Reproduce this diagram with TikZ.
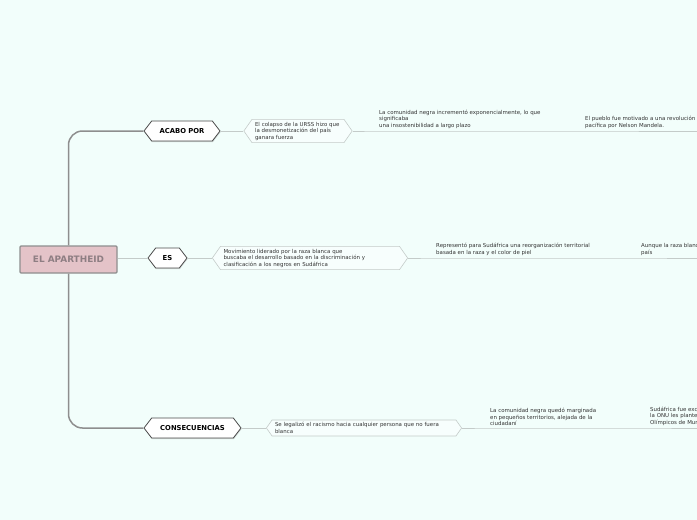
\documentclass[tikz,border=0pt]{standalone}
\usepackage{fontspec}
\setmainfont{DejaVu Sans}
\usetikzlibrary{shapes.symbols}
\usetikzlibrary{shadows}
\usetikzlibrary{calc}
\definecolor{bgcol}{HTML}{F2FEFB}
\definecolor{rootcol}{HTML}{E4C3C8}
\definecolor{roottxt}{HTML}{8E7E83}
\definecolor{trunkcol}{HTML}{8E8E8E}
\definecolor{linkcol}{HTML}{C4CBC9}
\definecolor{subcol}{HTML}{F7FEFD}
\newcommand{\tinyfont}{\fontsize{5.45}{6.5}\selectfont}

\begin{document}
\begin{tikzpicture}[x=1pt,y=-1pt]
\tikzstyle{rootstyle}=[draw=trunkcol, line width=1.2pt, fill=rootcol, rounded corners=1pt, minimum width=97pt, minimum height=27pt, text=roottxt, font=\fontsize{8.9}{10}\selectfont\bfseries]
\tikzstyle{mainstyle}=[signal, signal to=east and west, signal pointer angle=105, draw=black!70, line width=0.8pt, fill=white, minimum height=20pt, inner xsep=2pt, font=\fontsize{6.8}{8}\selectfont\bfseries, drop shadow={shadow xshift=0.5pt, shadow yshift=-1.2pt, opacity=0.3}]
\tikzstyle{substyle}=[signal, signal to=east and west, signal pointer angle=110, draw=linkcol, line width=0.6pt, fill=subcol, inner xsep=3pt, inner ysep=2.5pt, align=left, text=black!80, font=\tinyfont]
\tikzstyle{leafstyle}=[anchor=south west, inner xsep=3pt, inner ysep=2.2pt, align=left, text=black!80, font=\tinyfont]
\tikzstyle{trunk}=[line width=1.5pt, trunkcol, rounded corners=14pt]
\tikzstyle{link}=[line width=0.7pt, linkcol]

% background
\useasboundingbox (0,0) rectangle (697,520);
\fill[bgcol] (0,0) rectangle (697,520);
\clip (0,0) rectangle (697,520);

\coordinate (endA) at (697,131);
\coordinate (endB) at (697,258);
\coordinate (endC) at (697,428);

% root and branches
\node[rootstyle] (root) at (68.5,259.5) {EL APARTHEID};
\node[mainstyle, minimum width=76pt] (acabo) at (182,131) {ACABO POR};
\node[mainstyle, minimum width=39pt] (es) at (167.5,258) {ES};
\node[mainstyle, minimum width=97pt] (conse) at (192.5,428) {CONSECUENCIAS};

\draw[trunk] (root.north) |- (acabo.west);
\draw[trunk] (root.south) |- (conse.west);
\draw[link] (root.east |- es.west) -- (es.west);

% second level
\node[substyle, text width=86pt] (colapso) at (298,131) {El colapso de la URSS hizo que\\la desmonetización del país\\ganara fuerza};
\node[substyle, text width=173pt] (movim) at (310,258) {Movimiento liderado por la raza blanca que\\buscaba el desarrollo basado en la discriminación y\\clasificación a los negros en Sudáfrica};
\node[substyle, text width=178pt] (legal) at (364,428) {Se legalizó el racismo hacia cualquier persona que no fuera\\blanca};

\draw[link] (acabo.east) -- (colapso.west);
\draw[link] (es.east) -- (movim.west);
\draw[link] (conse.east) -- (legal.west);

% third level
\node[leafstyle] (comunidad) at (376,131) {La comunidad negra incrementó exponencialmente, lo que\\significaba\\una insostenibilidad a largo plazo};
\node[leafstyle] (pueblo) at (582,131) {El pueblo fue motivado a una revolución\\pacífica por Nelson Mandela.};
\node[leafstyle] (reorg) at (433,258) {Representó para Sudáfrica una reorganización territorial\\basada en la raza y el color de piel};
\node[leafstyle] (aunque) at (638,258) {Aunque la raza blanca\\país};
\node[leafstyle] (margin) at (487,428) {La comunidad negra quedó marginada\\en pequeños territorios, alejada de la\\ciudadaní};
\node[leafstyle] (excl) at (647,428) {Sudáfrica fue excluida\\la ONU les planteó\\Olímpicos de Munich};

\draw[link] (colapso.east) -- (comunidad.south west) -- (pueblo.south west) -- (endA);
\draw[link] (movim.east) -- (reorg.south west) -- (aunque.south west) -- (endB);
\draw[link] (legal.east) -- (margin.south west) -- (excl.south west) -- (endC);
\end{tikzpicture}
\end{document}
